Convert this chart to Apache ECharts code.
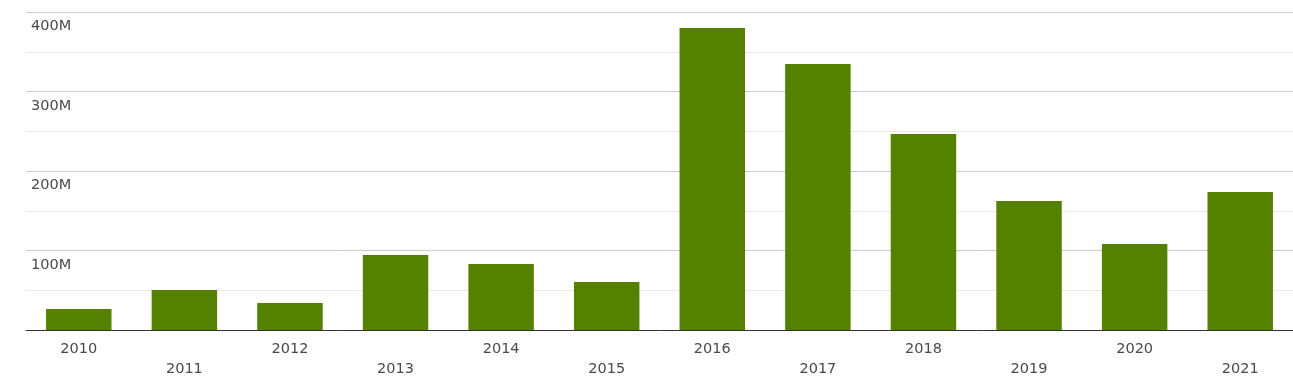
<!DOCTYPE html>
<html>
<head>
<meta charset="utf-8">
<script src="https://cdn.jsdelivr.net/npm/echarts@6/dist/echarts.min.js"></script>
<style>
html,body{margin:0;padding:0;background:#fff;}
#chart{width:1293px;height:384px;}
</style>
</head>
<body>
<div id="chart"></div>
<script>
const years = ['2010','2011','2012','2013','2014','2015','2016','2017','2018','2019','2020','2021'];
const values = [26.4, 50.3, 34.0, 94.3, 83.0, 60.4, 379.9, 334.6, 246.5, 162.3, 108.2, 173.6]; // millions
const yTicks = [100, 200, 300, 400];

const chart = echarts.init(document.getElementById('chart'));
chart.setOption({
  animation: false,
  textStyle: { fontFamily: 'DejaVu Sans' },
  grid: { left: 26, right: 0, top: 12, bottom: 54, containLabel: false },
  xAxis: {
    type: 'category',
    data: years,
    axisLine: { lineStyle: { color: '#333', width: 1 } },
    axisTick: { show: false },
    axisLabel: {
      interval: 0,
      color: '#4a4a4a',
      fontSize: 14.5,
      lineHeight: 20,
      margin: 9,
      formatter: (v, i) => (i % 2 ? '\n' + v : v)
    }
  },
  yAxis: {
    type: 'value',
    min: 0,
    max: 400,
    interval: 50,
    axisLine: { show: false },
    axisTick: { show: false },
    splitLine: { lineStyle: { color: ['#cccccc', '#e8e8e8'], width: 1 } },
    axisLabel: {
      inside: true,
      margin: 5,
      align: 'left',
      verticalAlign: 'top',
      padding: [7, 0, 0, 0],
      color: '#4a4a4a',
      fontSize: 14.5,
      formatter: v => (yTicks.indexOf(v) >= 0 ? v + 'M' : '')
    }
  },
  series: [{
    type: 'bar',
    data: values,
    barWidth: '62%',
    itemStyle: { color: '#548200' }
  }]
});
</script>
</body>
</html>
